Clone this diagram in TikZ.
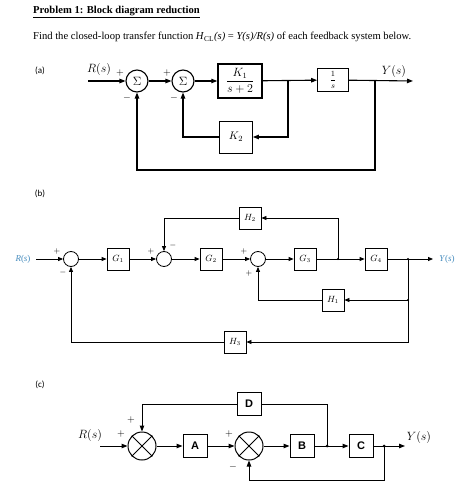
\documentclass[tikz,border=0pt]{standalone}
\usepackage{fontspec}
\setmainfont{Liberation Serif}
\newfontfamily\sansf{Liberation Sans}
\newfontfamily\labf{Carlito}
\usetikzlibrary{arrows.meta}
\definecolor{sigblue}{RGB}{70,140,190}
\begin{document}
\begin{tikzpicture}[x=1pt,y=-1pt,
  arr/.style={-{Triangle[length=6pt,width=4.5pt]}},
  arrb/.style={-{Triangle[length=5pt,width=4pt]}},
  lwa/.style={line width=1.1pt},
  lwb/.style={line width=0.8pt},
  lwc/.style={line width=1pt},
  suma/.style={draw,circle,lwa,minimum size=22pt,inner sep=0pt,font=\fontsize{12}{14}\selectfont},
  boxa/.style={draw,lwa,inner sep=0pt},
  sumb/.style={draw,circle,lwb,minimum size=15pt,inner sep=0pt},
  boxb/.style={draw,lwb,minimum width=22pt,minimum height=22pt,inner sep=0pt,font=\small},
  sumc/.style={draw,circle,lwc,minimum size=28pt,inner sep=0pt},
  boxc/.style={draw,lwc,minimum width=24pt,minimum height=23pt,inner sep=0pt,font=\sansf\bfseries\fontsize{11}{13}\selectfont},
  sgn/.style={inner sep=0pt,font=\normalsize},
  sgnb/.style={inner sep=0pt,font=\footnotesize},
  bigl/.style={inner sep=0pt,font=\fontsize{12.5}{14}\selectfont},
  part/.style={inner sep=0pt,font=\labf\fontsize{9}{11}\selectfont}
]
\useasboundingbox (0,0) rectangle (474,494);
% header
\node[anchor=west,inner sep=0pt,font=\fontsize{10.6}{12}\selectfont] (title) at (33,12) {\textbf{\underline{Problem 1: Block diagram reduction}}};
\node[anchor=west,inner sep=0pt,font=\fontsize{10.6}{12}\selectfont] (task) at (33,37) {Find the closed-loop transfer function \textit{H}\textsubscript{CL}\textit{(s)} = \textit{Y(s)/R(s)} of each feedback system below.};

% ---------------- (a)
\node[part] (pa) at (40,71) {(a)};
\node[suma] (a1) at (137,81) {$\Sigma$};
\node[suma] (a2) at (183,81) {$\Sigma$};
\node[boxa,line width=1.5pt,minimum width=44pt,minimum height=34pt,font=\fontsize{11.5}{13}\selectfont] (ak1) at (240,81) {$\displaystyle\frac{K_1}{s+2}$};
\node[boxa,line width=0.8pt,minimum width=31pt,minimum height=23pt,font=\footnotesize] (aint) at (333,80) {$\displaystyle\frac{1}{s}$};
\node[boxa,line width=0.8pt,minimum width=33pt,minimum height=32pt,font=\fontsize{11}{13}\selectfont] (ak2) at (236,137) {$K_2$};
\coordinate (ain) at (88,81);
\coordinate (abp1) at (288,81);
\coordinate (abp2) at (375,81);
\coordinate (aout) at (413,81);
\coordinate (afb) at (375,170);
\draw[lwa,arr] (ain) -- (a1);
\draw[lwa,arr] (a1) -- (a2);
\draw[lwa,arr] (a2) -- (ak1);
\draw[lwa,arr] (ak1) -- (aint);
\draw[lwa,arr] (aint) -- (aout);
\draw[lwa,arr] (abp1) |- (ak2);
\draw[lwa,arr] (ak2) -| (a2);
\draw[lwa,arr] (abp2) -- (afb) -| (a1);
\node[bigl] (aR) at (99,70) {$R(s)$};
\node[bigl] (aY) at (394,72) {$Y(s)$};
\node[sgn] (as1) at (120,73) {$+$};
\node[sgn] (as2) at (127,98) {$-$};
\node[sgn] (as3) at (167,73) {$+$};
\node[sgn] (as4) at (174,98) {$-$};

% ---------------- (b)
\node[part] (pb) at (40,194) {(b)};
\node[sumb] (b1) at (71,259) {};
\node[sumb] (b2) at (164,259) {};
\node[sumb] (b3) at (258,259) {};
\node[boxb] (g1) at (118,259) {$G_1$};
\node[boxb] (g2) at (211,259) {$G_2$};
\node[boxb] (g3) at (305,259) {$G_3$};
\node[boxb] (g4) at (376,259) {$G_4$};
\node[boxb] (h2) at (250,218) {$H_2$};
\node[boxb] (h1) at (333,300) {$H_1$};
\node[boxb] (h3) at (235,342) {$H_3$};
\coordinate (bin) at (36,259);
\coordinate (bbp1) at (338,259);
\coordinate (bbp2) at (408,259);
\coordinate (bout) at (433,259);
\coordinate (bh1r) at (408,300);
\coordinate (bh3r) at (408,342);
\coordinate (bh2r) at (338,218);
\draw[lwb,arrb] (bin) -- (b1);
\draw[lwb,arrb] (b1) -- (g1);
\draw[lwb,arrb] (g1) -- (b2);
\draw[lwb,arrb] (b2) -- (g2);
\draw[lwb,arrb] (g2) -- (b3);
\draw[lwb,arrb] (b3) -- (g3);
\draw[lwb,arrb] (g3) -- (g4);
\draw[lwb,arrb] (g4) -- (bout);
\draw[lwb,arrb] (bbp1) -- (bh2r) -- (h2);
\draw[lwb,arrb] (h2) -| (b2);
\draw[lwb,arrb] (bbp2) -- (bh3r) -- (h3);
\draw[lwb,arrb] (bh1r) -- (h1);
\draw[lwb,arrb] (h1) -| (b3);
\draw[lwb,arrb] (h3) -| (b1);
\fill (bbp1) circle (1.2pt);
\fill (bbp2) circle (1.2pt);
\fill (bh1r) circle (1.2pt);
\node[inner sep=0pt,text=sigblue,font=\small] (bR) at (23,259) {\textit{R}(\textit{s})};
\node[inner sep=0pt,text=sigblue,font=\small] (bY) at (447,259) {\textit{Y}(\textit{s})};
\node[sgnb] (bs1) at (57,251) {$+$};
\node[sgnb] (bs2) at (63,272) {$-$};
\node[sgnb] (bs3) at (151,251) {$+$};
\node[sgnb] (bs4) at (173,245) {$-$};
\node[sgnb] (bs5) at (244,251) {$+$};
\node[sgnb] (bs6) at (249,273) {$+$};

% ---------------- (c)
\node[part] (pc) at (40,385) {(c)};
\node[sumc] (c1) at (142,446) {};
\node[sumc] (c2) at (249,446) {};
\draw[lwc] (c1.45) -- (c1.225) (c1.135) -- (c1.315);
\draw[lwc] (c2.45) -- (c2.225) (c2.135) -- (c2.315);
\node[boxc] (ca) at (195,446) {A};
\node[boxc] (cb) at (302,446) {B};
\node[boxc] (cc) at (361,446) {C};
\node[boxc] (cd) at (249,404) {D};
\coordinate (cin) at (100,446);
\coordinate (cbp1) at (327,446);
\coordinate (cbp2) at (384,446);
\coordinate (cout) at (405,446);
\coordinate (cdr) at (327,404);
\coordinate (cfb) at (384,480);
\draw[lwc,arr] (cin) -- (c1);
\draw[lwc,arr] (c1) -- (ca);
\draw[lwc,arr] (ca) -- (c2);
\draw[lwc,arr] (c2) -- (cb);
\draw[lwc,arr] (cb) -- (cc);
\draw[lwc,arr] (cc) -- (cout);
\draw[lwc] (cbp1) -- (cdr) -- (cd);
\draw[lwc,arr] (cd) -| (c1);
\draw[lwc,arr] (cbp2) -- (cfb) -| (c2);
\fill (cbp1) circle (1.5pt);
\fill (cbp2) circle (1.5pt);
\node[bigl] (cR) at (90,435) {$R(s)$};
\node[bigl] (cY) at (419,437) {$Y(s)$};
\node[sgn] (cs1) at (131,420) {$+$};
\node[sgn] (cs2) at (121,434) {$+$};
\node[sgn] (cs3) at (229,434) {$+$};
\node[sgn] (cs4) at (233,467) {$-$};
\end{tikzpicture}
\end{document}
